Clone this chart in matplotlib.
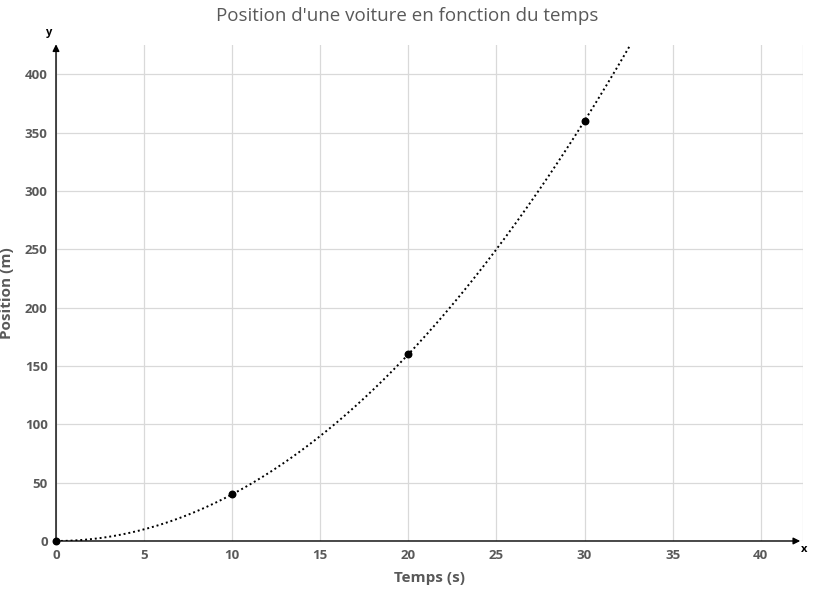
import numpy as np
import matplotlib
matplotlib.use("Agg")
import matplotlib.pyplot as plt

plt.rcParams['font.family'] = ['Open Sans', 'DejaVu Sans']

temps = [0, 10, 20, 30]
position = [0, 40, 160, 360]
xticks = [0, 5, 10, 15, 20, 25, 30, 35, 40]
yticks = [0, 50, 100, 150, 200, 250, 300, 350, 400]

fig = plt.figure(figsize=(8.14, 5.90), dpi=100)
ax = fig.add_axes([56/814, 49/590, (803-56)/814, (541-45)/590])
xmax, ymax = 42.4, 425

coef = np.polyfit(temps, position, 2)
xs = np.linspace(0, xmax, 400)
ys = np.polyval(coef, xs)
ax.plot(xs, ys, color='black', linestyle=(0, (1, 1.5)), linewidth=1.4, zorder=3)
ax.scatter(temps, position, s=22, color='black', zorder=4, clip_on=False)

ax.set_xlim(0, xmax)
ax.set_ylim(0, ymax)
ax.set_xticks(xticks)
ax.set_yticks(yticks)
ax.grid(True, color='#d9d9d9', linewidth=0.9)
ax.axvline(xmax, color='#d9d9d9', linewidth=0.9)
for s in ['top', 'right', 'left', 'bottom']:
    ax.spines[s].set_visible(False)
ax.tick_params(length=0, labelsize=9.5, colors='#595959', pad=6)
for lab in ax.get_xticklabels() + ax.get_yticklabels():
    lab.set_fontweight('bold')

ax.annotate('', xy=(xmax, 0), xytext=(0, 0),
            arrowprops=dict(arrowstyle='-|>', color='black', lw=1.0, mutation_scale=10),
            annotation_clip=False)
ax.annotate('', xy=(0, ymax + 3), xytext=(0, 0),
            arrowprops=dict(arrowstyle='-|>', color='black', lw=1.0, mutation_scale=10),
            annotation_clip=False)
fig.text(804/814, 1 - 550/590, 'x', fontsize=8, fontweight='bold', ha='center', va='center')
fig.text(49/814, 1 - 33/590, 'y', fontsize=8, fontweight='bold', ha='center', va='center')

ax.set_xlabel('Temps (s)', fontsize=11, fontweight='bold', color='#595959', labelpad=6)
ax.set_ylabel('Position (m)', fontsize=11, fontweight='bold', color='#595959', labelpad=8)
fig.text(0.5, 1 - 16/590, "Position d'une voiture en fonction du temps",
         fontsize=13.5, color='#595959', ha='center', va='center')

fig.savefig('out.png', dpi=100, facecolor='white')
